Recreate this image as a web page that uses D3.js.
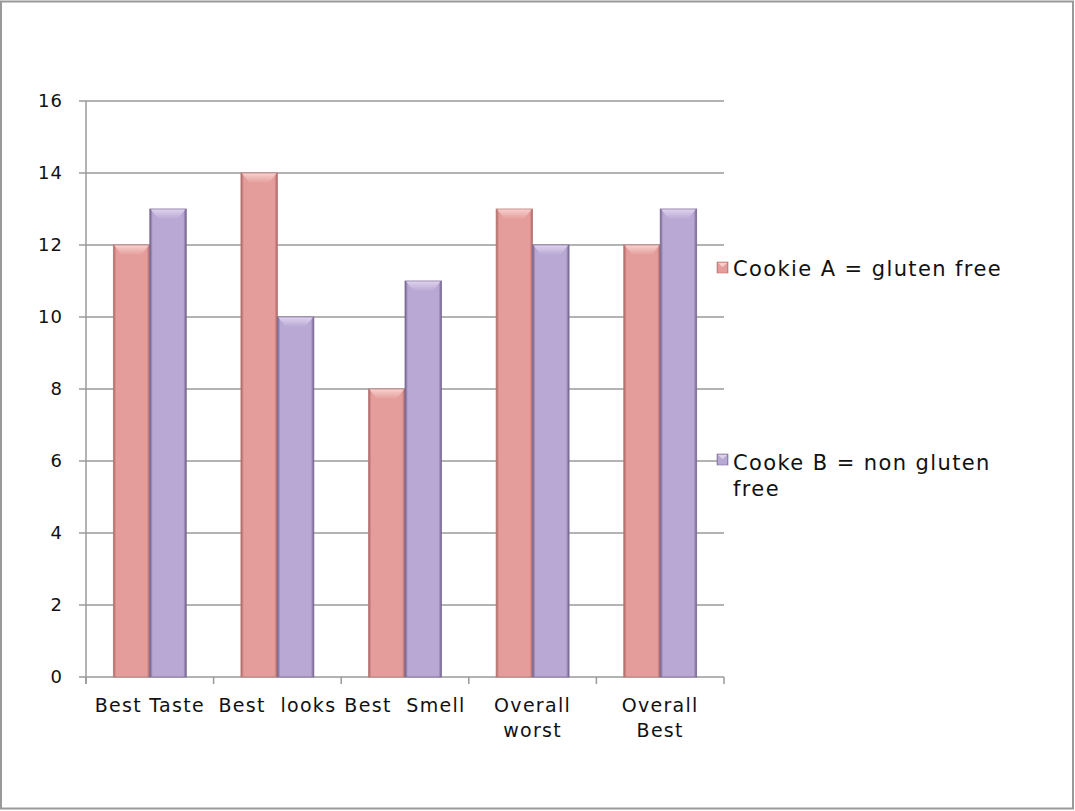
<!DOCTYPE html>
<html><head><meta charset="utf-8">
<script src="https://cdn.jsdelivr.net/npm/d3@7"></script>
<style>body{margin:0;background:#fff}svg{display:block}</style>
</head><body>
<script>
const categories = [["Best Taste"], ["Best  looks"], ["Best  Smell"], ["Overall", "worst"], ["Overall", "Best"]];
const seriesNames = ["Cookie A = gluten free", "Cooke B = non gluten free"];
const cookieA = [12, 14, 8, 13, 12];
const cookieB = [13, 10, 11, 12, 13];
const yTicks = [0, 2, 4, 6, 8, 10, 12, 14, 16];

(function () {
const W = 1075, H = 811;
const font = "'DejaVu Sans', sans-serif";
const svg = d3.select("body").append("svg").attr("width", W).attr("height", H);

svg.append("rect").attr("x", 1).attr("y", 1.5).attr("width", W - 3).attr("height", H - 4)
  .attr("fill", "#fff").attr("stroke", "#9a9a9a").attr("stroke-width", 2);

const pLeft = 86, pRight = 724, pTop = 101, pBottom = 677;
const x = d3.scaleBand().domain(d3.range(categories.length)).range([pLeft, pRight]).paddingInner(0).paddingOuter(0);
const sub = d3.scaleBand().domain([0, 1]).range([0, x.bandwidth()]).paddingInner(0).paddingOuter(0.75);
const y = d3.scaleLinear().domain([0, 16]).range([pBottom, pTop]);

const colors = [
  {base: "#e59d9b", light: "#f6cfcd", dark: "#a9625f", stroke: "#b77a78"},
  {base: "#b9a8d4", light: "#ddd2ec", dark: "#6e5e88", stroke: "#7d6c96"}
];
const defs = svg.append("defs");
colors.forEach((c, i) => {
  const g = defs.append("linearGradient").attr("id", "side" + i).attr("x1", 0).attr("x2", 1).attr("y1", 0).attr("y2", 0);
  g.append("stop").attr("offset", "0").attr("stop-color", c.dark);
  g.append("stop").attr("offset", "0.08").attr("stop-color", c.base);
  g.append("stop").attr("offset", "0.92").attr("stop-color", c.base);
  g.append("stop").attr("offset", "1").attr("stop-color", c.dark);
  const t = defs.append("linearGradient").attr("id", "top" + i).attr("x1", 0).attr("x2", 0).attr("y1", 0).attr("y2", 1);
  t.append("stop").attr("offset", "0").attr("stop-color", c.light);
  t.append("stop").attr("offset", "1").attr("stop-color", c.base);
});

svg.append("g").selectAll("line").data(yTicks).join("line")
  .attr("x1", pLeft - 7).attr("x2", pRight).attr("y1", d => y(d)).attr("y2", d => y(d))
  .attr("stroke", "#9a9a9a").attr("stroke-width", 1.5);
svg.append("line").attr("x1", pLeft).attr("x2", pLeft).attr("y1", pTop).attr("y2", pBottom + 7)
  .attr("stroke", "#9a9a9a").attr("stroke-width", 1.5);
svg.append("g").selectAll("line").data(d3.range(categories.length + 1)).join("line")
  .attr("x1", d => pLeft + d * x.bandwidth()).attr("x2", d => pLeft + d * x.bandwidth())
  .attr("y1", pBottom).attr("y2", pBottom + 7).attr("stroke", "#9a9a9a").attr("stroke-width", 1.5);

svg.append("g").selectAll("text").data(yTicks).join("text")
  .attr("x", 63).attr("y", d => y(d) + 6).attr("text-anchor", "end")
  .attr("font-family", font).attr("font-size", 18).attr("letter-spacing", 1).attr("fill", "#111").text(d => d);

const series = [cookieA, cookieB];
series.forEach((vals, si) => {
  const g = svg.append("g");
  vals.forEach((v, ci) => {
    const x0 = x(ci) + sub(si), w = sub.bandwidth();
    const y0 = y(v), y1 = y(0);
    g.append("rect").attr("x", x0).attr("y", y0).attr("width", w).attr("height", y1 - y0)
      .attr("fill", `url(#side${si})`).attr("stroke", colors[si].stroke).attr("stroke-width", 0.8);
    const bh = 10, ind = w * 0.24;
    g.append("polygon")
      .attr("points", [[x0 + 1, y0 + 0.5], [x0 + w - 1, y0 + 0.5], [x0 + w - ind, y0 + bh], [x0 + ind, y0 + bh]].map(p => p.join(",")).join(" "))
      .attr("fill", `url(#top${si})`);
  });
});

const xl = svg.append("g");
categories.forEach((lines, i) => {
  lines.forEach((t, k) => {
    xl.append("text").attr("x", x(i) + x.bandwidth() / 2).attr("y", 712 + k * 25)
      .attr("text-anchor", "middle").attr("font-family", font).attr("font-size", 19)
      .attr("letter-spacing", 1.3).attr("fill", "#111").style("white-space", "pre").text(t);
  });
});

const legend = [
  {lines: ["Cookie A = gluten free"], sy: 262, ty: 276},
  {lines: ["Cooke B = non gluten", "free"], sy: 454, ty: 470}
];
legend.forEach((l, i) => {
  svg.append("rect").attr("x", 717).attr("y", l.sy).attr("width", 11).attr("height", 11)
    .attr("fill", `url(#side${i})`).attr("stroke", colors[i].stroke).attr("stroke-width", 0.6);
  svg.append("polygon").attr("points", `718,${l.sy + 1} 727,${l.sy + 1} 722.5,${l.sy + 5}`).attr("fill", colors[i].light);
  l.lines.forEach((t, k) => {
    svg.append("text").attr("x", 733).attr("y", l.ty + k * 26).attr("font-family", font)
      .attr("font-size", 21).attr("letter-spacing", 1.4).attr("fill", "#111").text(t);
  });
});
})();
</script>
</body></html>
